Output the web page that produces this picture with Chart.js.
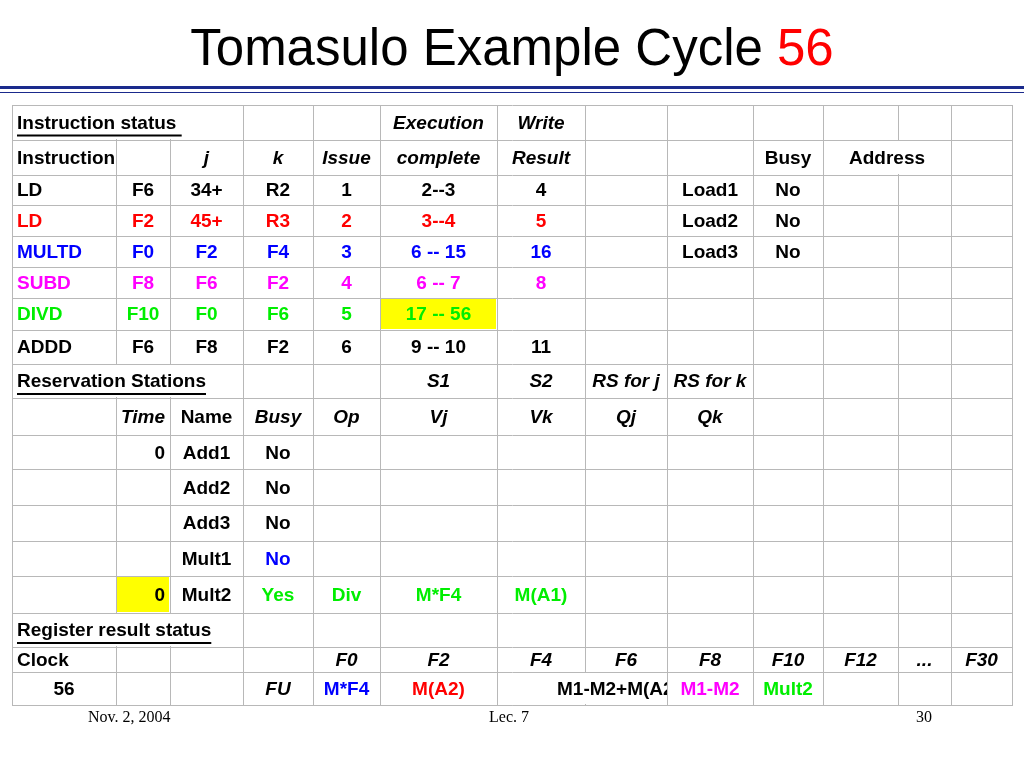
<!DOCTYPE html>
<html><head><meta charset="utf-8">
<script src="https://cdn.jsdelivr.net/npm/chart.js@4"></script>
<style>
html,body{margin:0;padding:0;background:#fff;width:1024px;height:768px;overflow:hidden}
#wrap{position:relative;width:1024px;height:768px}
canvas{position:absolute;left:0;top:0}
#title{position:absolute;top:18px;left:0;width:1024px;text-align:center;font:51px "Liberation Sans",Arial,sans-serif;color:#000}
#title span{color:#ff0000}
#l1{position:absolute;left:0;top:86px;width:1024px;height:3px;background:#1a2a8c}
#l2{position:absolute;left:0;top:92px;width:1024px;height:1px;background:#1a2a8c}
.ft{position:absolute;top:708px;font:16px "Liberation Serif","Times New Roman",serif}
</style></head><body>
<div id="wrap">
<canvas id="c" width="1024" height="768"></canvas>
<div id="title">Tomasulo Example Cycle <span>56</span></div>
<div id="l1"></div><div id="l2"></div>
<div class="ft" style="left:88px">Nov. 2, 2004</div>
<div class="ft" style="left:489px">Lec. 7</div>
<div class="ft" style="left:916px">30</div>
</div>
<script>
// ---- data ----
const instrHeader1 = ['Instruction status ', 'Execution', 'Write'];
const instrHeader2 = ['Instruction', 'j', 'k', 'Issue', 'complete', 'Result'];
const instructions = [
  ['LD','F6','34+','R2','1','2--3','4'],
  ['LD','F2','45+','R3','2','3--4','5'],
  ['MULTD','F0','F2','F4','3','6 -- 15','16'],
  ['SUBD','F8','F6','F2','4','6 -- 7','8'],
  ['DIVD','F10','F0','F6','5','17 -- 56',''],
  ['ADDD','F6','F8','F2','6','9 -- 10','11']
];
const loadHeader = ['Busy','Address'];
const loadBuffers = [['Load1','No'],['Load2','No'],['Load3','No']];
const rsHeader1 = ['S1','S2','RS for j','RS for k'];
const rsHeader2 = ['Time','Name','Busy','Op','Vj','Vk','Qj','Qk'];
const stations = [
  ['0','Add1','No','','','',''],
  ['','Add2','No','','','',''],
  ['','Add3','No','','','',''],
  ['','Mult1','No','','','',''],
  ['0','Mult2','Yes','Div','M*F4','M(A1)','']
];
const regNames = ['F0','F2','F4','F6','F8','F10','F12','...','F30'];
const clockValue = '56';
const regFU = ['M*F4','M(A2)','M1-M2+M(A2)','','M1-M2','Mult2','','',''];

// ---- layout / style ----
const colEdges = [12,116,170,243,313,380,497,585,667,753,823,898,951,1012];
const rowEdges = [105,140,175,205,236,267,298,330,364,398,435,470,505,541,576,613,647,672,705];
const RED='#ff0000', BLUE='#0000ff', MAG='#ff00ff', GRN='#00ee00', BLK='#000';
const instrColors = [BLK,RED,BLUE,MAG,GRN,BLK];
const stationColors = [{},{},{},{2:BLUE},{2:GRN,3:GRN,4:GRN,5:GRN}];
const regColors = [BLUE,RED,BLK,BLK,MAG,GRN,BLK,BLK,BLK];

const cells = [];
function add(r,c,t,o={}){ if(t!=='') cells.push(Object.assign({r,c,t},o)); }
add(0,0,instrHeader1[0],{align:'left',under:true});
add(0,5,instrHeader1[1],{italic:true}); add(0,6,instrHeader1[2],{italic:true});
add(1,0,instrHeader2[0],{align:'left'});
for(let i=1;i<6;i++) add(1,i+1,instrHeader2[i],{italic:true});
add(1,9,loadHeader[0]); add(1,10,loadHeader[1],{span:2});
instructions.forEach((row,i)=>row.forEach((t,j)=>add(2+i,j,t,{align:j===0?'left':'center',color:instrColors[i]})));
loadBuffers.forEach((row,i)=>{add(2+i,8,row[0]); add(2+i,9,row[1]);});
add(8,0,'Reservation Stations',{align:'left',under:true});
rsHeader1.forEach((t,i)=>add(8,5+i,t,{italic:true}));
rsHeader2.forEach((t,i)=>add(9,1+i,t,{italic:i!==1,align:i===0?'right':'center'}));
stations.forEach((row,i)=>row.forEach((t,j)=>add(10+i,1+j,t,{align:j===0?'right':'center',color:stationColors[i][j]||BLK})));
add(15,0,'Register result status',{align:'left',under:true});
add(16,0,'Clock',{align:'left'});
regNames.forEach((t,i)=>add(16,4+i,t,{italic:true}));
add(17,0,clockValue); add(17,3,'FU',{italic:true});
regFU.forEach((t,i)=>add(17,4+i,t,{color:regColors[i],clip:i===2}));
const merges = [[0,0,3],[8,0,3],[15,0,3],[17,6,8],[1,10,12]];
const highlights = [[6,5],[14,1]];

const tablePlugin = {
  id:'table',
  afterDraw(chart){
    const ctx=chart.ctx, X=chart.scales.x, Y=chart.scales.y;
    const px=c=>X.getPixelForValue(colEdges[c]), py=r=>Y.getPixelForValue(rowEdges[r]);
    ctx.save();
    ctx.fillStyle='#fff';
    merges.forEach(([r,a,b])=>ctx.fillRect(px(a)+1,py(r)+1,px(b)-px(a)-2,py(r+1)-py(r)-2));
    ctx.fillStyle='#ffff00';
    highlights.forEach(([r,c])=>ctx.fillRect(px(c)+1,py(r)+1,px(c+1)-px(c)-2,py(r+1)-py(r)-2));
    ctx.textBaseline='middle';
    cells.forEach(o=>{
      const l=px(o.c), rgt=px(o.c+(o.span||1)), cy=(py(o.r)+py(o.r+1))/2+1;
      ctx.font=(o.italic?'italic ':'')+'bold 19px "Liberation Sans", Arial, sans-serif';
      ctx.fillStyle=o.color||BLK;
      let x, al=o.align||'center';
      if(al==='left') x=l+5; else if(al==='right') x=rgt-5; else x=(l+rgt)/2;
      ctx.save();
      if(o.clip){ ctx.beginPath(); ctx.rect(px(6),py(o.r),px(8)-px(6),py(o.r+1)-py(o.r)); ctx.clip(); al='left'; x=557; }
      ctx.textAlign=al;
      ctx.fillText(o.t,x,cy);
      if(o.under){ const w=ctx.measureText(o.t).width; ctx.fillRect(x,cy+11,w,2); }
      ctx.restore();
    });
    ctx.restore();
  }
};

new Chart(document.getElementById('c'),{
  type:'scatter',
  data:{datasets:[{data:[]}]},
  options:{
    responsive:false, animation:false, events:[],
    layout:{padding:{left:12,right:12,top:105,bottom:63}},
    plugins:{legend:{display:false},tooltip:{enabled:false}},
    scales:{
      x:{type:'linear',min:12,max:1012,
        afterBuildTicks:s=>{s.ticks=colEdges.map(v=>({value:v}));},
        afterFit:s=>{s.height=0;},
        ticks:{display:false},
        grid:{color:'#b8b8b8',drawTicks:false,lineWidth:1},
        border:{color:'#b8b8b8'}},
      y:{type:'linear',min:105,max:705,reverse:true,
        afterBuildTicks:s=>{s.ticks=rowEdges.map(v=>({value:v}));},
        afterFit:s=>{s.width=0;},
        ticks:{display:false},
        grid:{color:'#b8b8b8',drawTicks:false,lineWidth:1},
        border:{color:'#b8b8b8'}}
    }
  },
  plugins:[tablePlugin]
});
</script>
</body></html>
